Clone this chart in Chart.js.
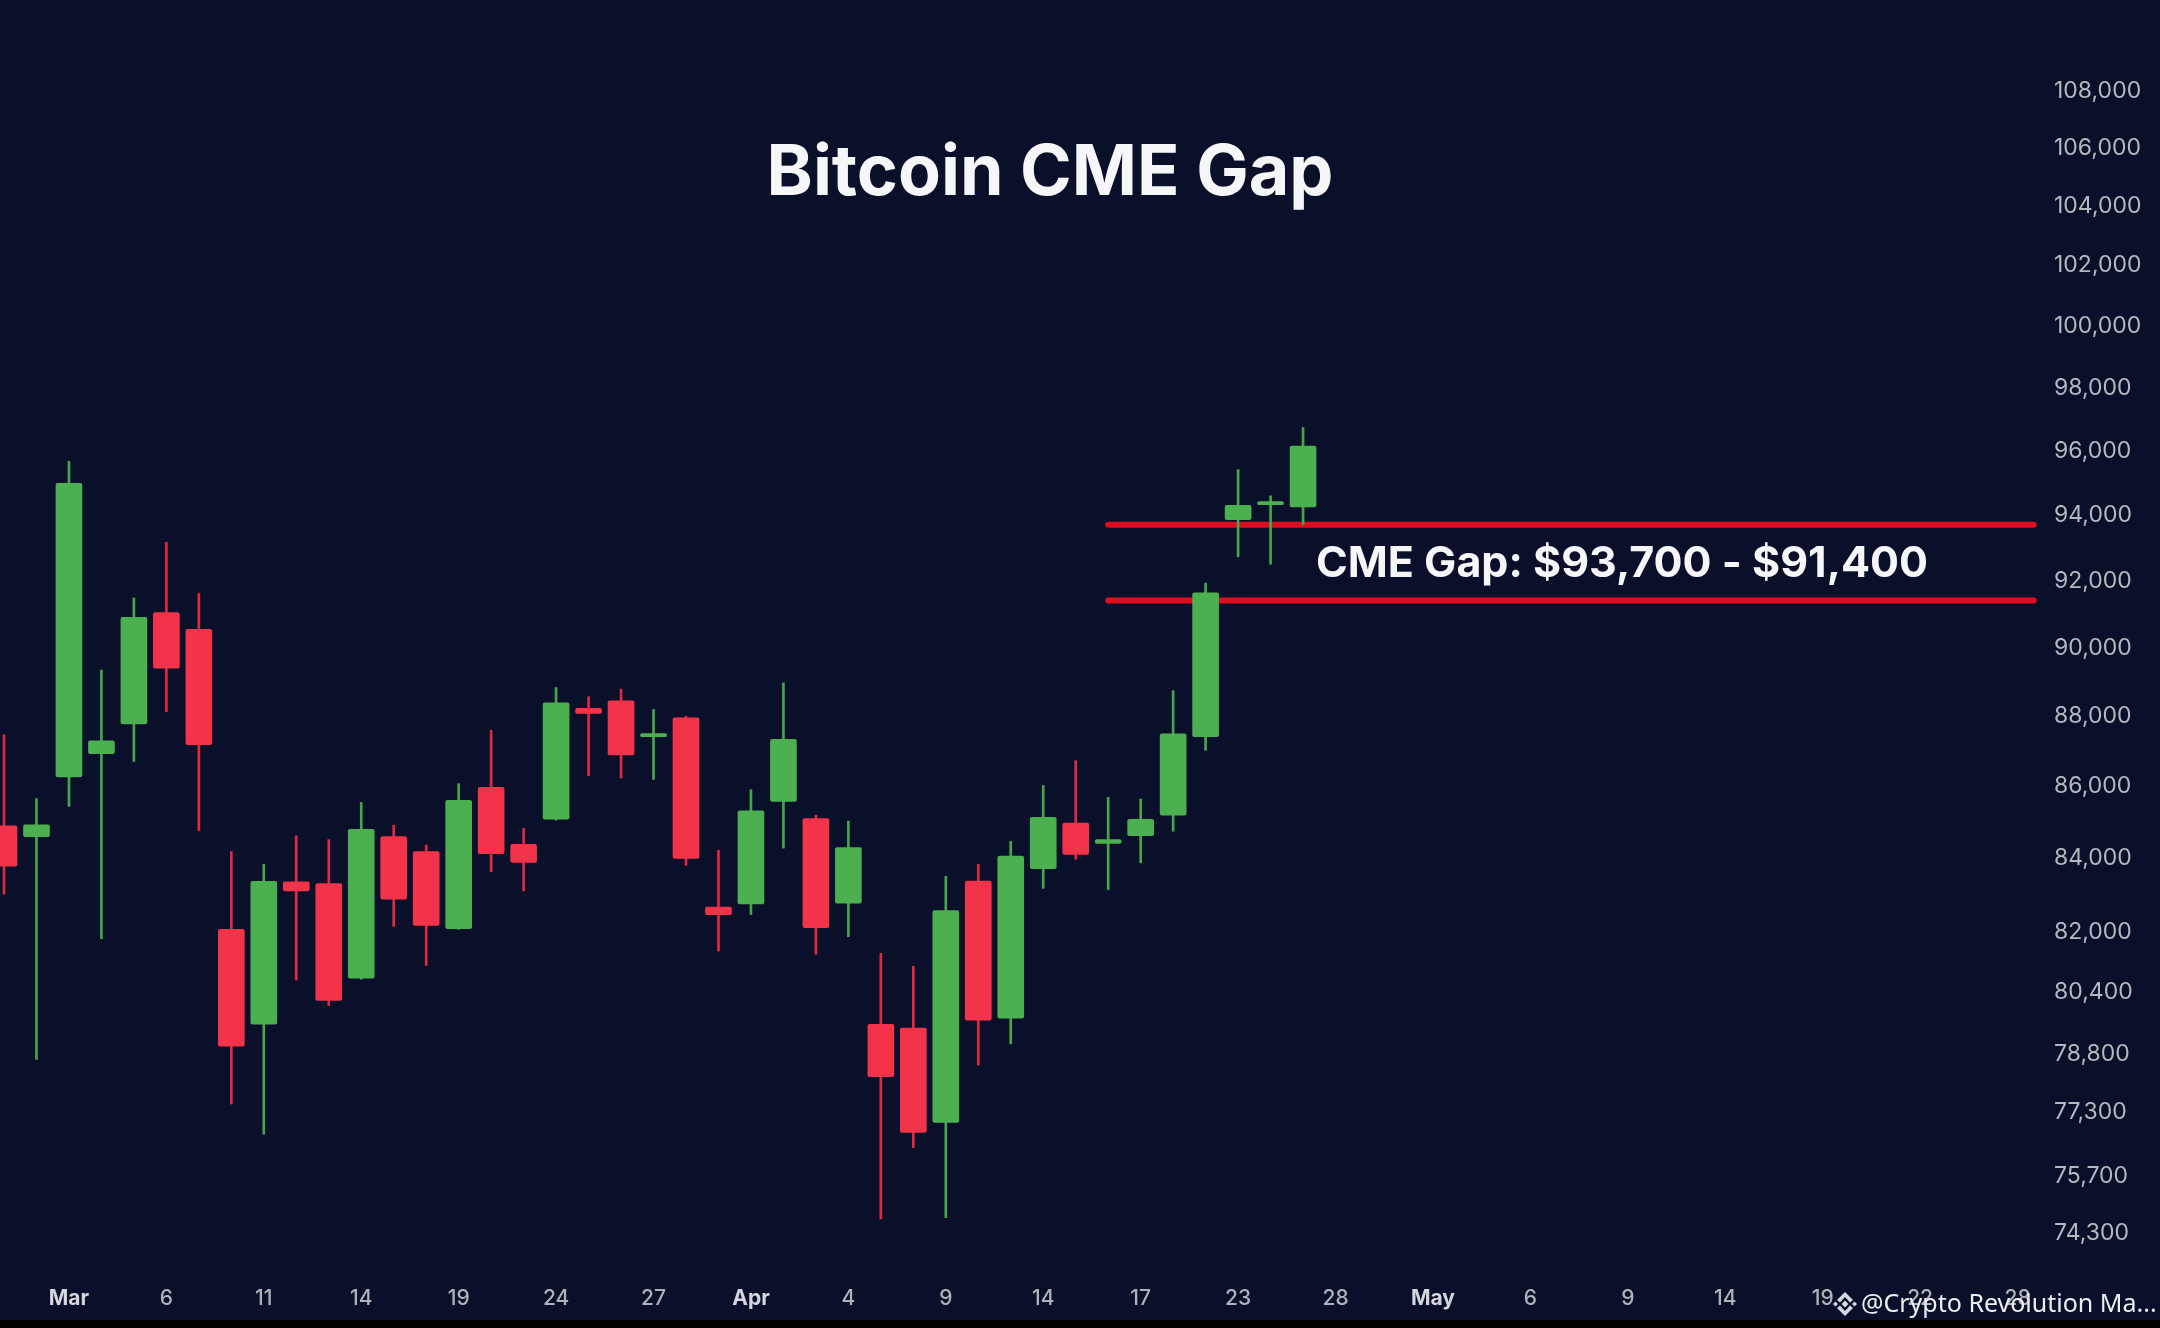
<!DOCTYPE html>
<html>
<head>
<meta charset="utf-8">
<title>Bitcoin CME Gap</title>
<style>
  html, body { margin: 0; padding: 0; background: #000; overflow: hidden; }
  canvas { display: block; }
</style>
<script src="https://cdn.jsdelivr.net/npm/chart.js@4"></script>
</head>
<body>
<canvas id="chartGap" width="2160" height="1320"></canvas>
<script>
const tickLabels = ['Mar', '6', '11', '14', '19', '24', '27', 'Apr', '4', '9', '14', '17', '23', '28', 'May', '6', '9', '14', '19', '22', '28'];
const monthLabels = ['Mar', 'Apr', 'May'];
const priceTicks = [108000, 106000, 104000, 102000, 100000, 98000, 96000, 94000, 92000, 90000, 88000, 86000, 84000, 82000, 80400, 78800, 77300, 75700, 74300];

const opens = [84900, 84600, 86270, 86930, 87780, 91040, 90545, 82070, 79560, 83360, 83310, 80770, 84600, 84190, 82090, 85975, 84385, 85085, 88230, 88445, 87415, 87955, 82670, 82755, 85580, 85100, 82780, 79560, 79460, 77045, 83380, 79720, 83720, 84980, 84415, 84630, 85200, 87415, 93850, 94315, 94250];
const highs = [87470, 85660, 95665, 89340, 91480, 93160, 91610, 84190, 83835, 84625, 84520, 85555, 84920, 84370, 86085, 87600, 84830, 88835, 88565, 88790, 88200, 88005, 84225, 85910, 88970, 85200, 85030, 81430, 81085, 83510, 83835, 84470, 86030, 86730, 85695, 85650, 88745, 91925, 95405, 94590, 96730];
const lows = [83025, 78650, 85440, 81820, 86710, 88135, 84770, 77510, 76750, 80720, 80050, 80740, 82150, 81110, 82070, 83635, 83110, 85060, 86305, 86240, 86200, 83810, 81490, 82470, 84285, 81405, 81875, 74650, 76410, 74680, 78505, 79050, 83180, 83980, 83150, 83880, 84750, 87030, 92720, 92495, 93705];
const closes = [83790, 84930, 94980, 87300, 90900, 89400, 87190, 78990, 83375, 83110, 80185, 84805, 82885, 82175, 85610, 84130, 83890, 88390, 88085, 86895, 87505, 84000, 82470, 85320, 87340, 82115, 84300, 78205, 76790, 82580, 79665, 84065, 85140, 84110, 84520, 85085, 87500, 91630, 94295, 94415, 96140];

const gapHigh = 93700;
const gapLow = 91400;
const gapStart = 34;
const gapEnd = 62.5;

const GREEN = '#4caf50';
const RED = '#f33349';
const BG = '#0a102a';

// one label every third session, the axis runs on past the last candle
const categories = new Array(64).fill('');
tickLabels.forEach((t, i) => { categories[2 + i * 3] = t; });

const isUp = i => closes[i] >= opens[i];
const candleColors = opens.map((o, i) => isUp(i) ? GREEN : RED);
const wickColors = opens.map((o, i) => isUp(i) ? '#46a64b' : '#e02a40');

const gapPlugin = {
    id: 'gapPlugin',
    beforeDraw(chart) {
        const c = chart.ctx;
        c.save();
        c.fillStyle = BG;
        c.fillRect(0, 0, chart.width, chart.height);
        c.restore();
    },
    beforeDatasetsDraw(chart) {
        const c = chart.ctx;
        const x1 = chart.scales.x.getPixelForValue(gapStart);
        const x2 = chart.scales.x.getPixelForValue(gapEnd);
        c.save();
        c.strokeStyle = '#e00d20';
        c.lineWidth = 6;
        c.lineCap = 'round';
        [gapHigh, gapLow].forEach(v => {
            const y = chart.scales.y.getPixelForValue(v);
            c.beginPath();
            c.moveTo(x1, y);
            c.lineTo(x2, y);
            c.stroke();
        });
        c.restore();
    },
    afterDraw(chart) {
        const c = chart.ctx;
        c.save();
        c.textBaseline = 'middle';

        c.textAlign = 'center';
        c.fillStyle = '#f5f6f8';
        c.font = '700 70px Inter';
        c.fillText('Bitcoin CME Gap', 1050, 174);

        c.font = '700 43px Inter';
        c.fillText('CME Gap: $93,700 - $91,400', 1622, 564);

        // watermark
        c.textAlign = 'left';
        c.font = '25px "Noto Sans"';
        c.fillStyle = '#eceef2';
        c.fillText('@Crypto Revolution Ma...', 1861, 1305);

        c.fillStyle = '#d6d9df';
        const lx = 1845, ly = 1304;
        const diamond = (x, y, r) => {
            c.beginPath();
            c.moveTo(x, y - r); c.lineTo(x + r, y); c.lineTo(x, y + r); c.lineTo(x - r, y);
            c.closePath();
            c.fill();
        };
        const chevron = (dir) => {
            c.beginPath();
            c.moveTo(lx, ly - 12 * dir);
            c.lineTo(lx + 8, ly - 4 * dir);
            c.lineTo(lx + 5, ly - 1.5 * dir);
            c.lineTo(lx, ly - 7 * dir);
            c.lineTo(lx - 5, ly - 1.5 * dir);
            c.lineTo(lx - 8, ly - 4 * dir);
            c.closePath();
            c.fill();
        };
        diamond(lx, ly, 3.5);
        diamond(lx - 9.5, ly, 2.5);
        diamond(lx + 9.5, ly, 2.5);
        chevron(1);
        chevron(-1);
        c.restore();
    }
};

new Chart(document.getElementById('chartGap'), {
    type: 'bar',
    plugins: [gapPlugin],
    data: {
        labels: categories,
        datasets: [
            {
                label: 'Body',
                data: opens.map((o, i) => [o, closes[i]]),
                backgroundColor: candleColors,
                barThickness: 26,
                borderRadius: 2,
                borderSkipped: false,
                clip: false
            },
            {
                label: 'Wick',
                data: lows.map((l, i) => [l, highs[i]]),
                backgroundColor: wickColors,
                barThickness: 2,
                clip: false
            }
        ]
    },
    options: {
        responsive: false,
        devicePixelRatio: 1,
        animation: false,
        layout: { padding: { left: 4, right: 0, top: 0, bottom: 0 } },
        plugins: {
            legend: { display: false },
            title: { display: false },
            tooltip: { enabled: false }
        },
        datasets: { bar: { grouped: false } },
        scales: {
            x: {
                type: 'category',
                offset: false,
                grid: { display: false, drawTicks: false },
                border: { display: false },
                afterFit(scale) {
                    scale.height = 60;
                    scale.paddingLeft = 0;
                    scale.paddingRight = 0;
                },
                ticks: {
                    autoSkip: false,
                    maxRotation: 0,
                    padding: 26,
                    color: ctx => monthLabels.includes(ctx.tick.label) ? '#d4d7dd' : '#aeb2ba',
                    font: ctx => ({
                        family: 'Inter',
                        size: 21,
                        weight: monthLabels.includes(ctx.tick.label) ? '700' : '500'
                    }),
                    callback: (v, i) => categories[i]
                }
            },
            y: {
                type: 'logarithmic',
                position: 'right',
                min: 73650,
                max: 111263,
                grid: { display: false, drawTicks: false },
                border: { display: false },
                afterBuildTicks(scale) {
                    scale.ticks = priceTicks.map(v => ({ value: v }));
                },
                afterFit(scale) {
                    scale.width = 110;
                    scale.paddingTop = 0;
                    scale.paddingBottom = 0;
                },
                ticks: {
                    autoSkip: false,
                    align: 'center',
                    crossAlign: 'near',
                    padding: 4,
                    color: '#b4b8c0',
                    font: { family: 'Inter', size: 23, weight: '400' },
                    callback: v => v.toLocaleString('en-US')
                }
            }
        }
    }
});
</script>
</body>
</html>
